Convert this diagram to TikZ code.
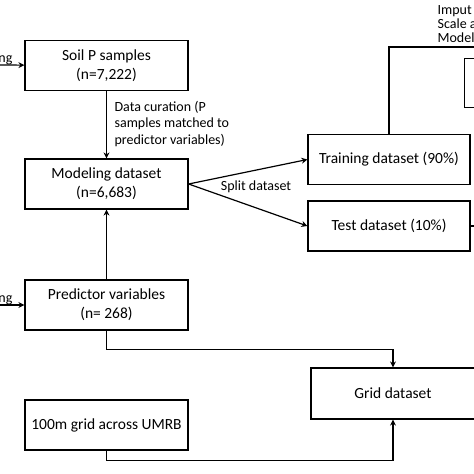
\documentclass[tikz,border=0pt]{standalone}
\usepackage{fontspec}
\setmainfont{Carlito}
\usetikzlibrary{arrows.meta}

\tikzset{
    box/.style={draw, line width=1.2pt, minimum width=163pt, minimum height=50pt,
        align=center, inner sep=0pt, font=\fontsize{15.5}{19}\selectfont},
    lbl/.style={align=left, inner sep=0pt, font=\fontsize{14}{16.5}\selectfont},
}

\begin{document}
\begin{tikzpicture}[x=1pt, y=-1pt, >={Stealth[length=6pt, width=6pt]}, line width=1.2pt]
    \useasboundingbox (0,0) rectangle (474,474);
    \clip (0,0) rectangle (474,474);

    % left column of boxes
    \node[box] (soil) at (106.5,65.5) {Soil P samples\\(n=7,222)};
    \node[box] (model) at (106.5,184) {Modeling dataset\\(n=6,683)};
    \node[box] (pred) at (106.5,305) {Predictor variables\\(n= 268)};
    \node[box] (grid100) at (106.5,425) {100m grid across UMRB};

    % inputs coming from the left
    \coordinate (inS) at (-5,65);
    \coordinate (inP) at (-5,305);
    \draw[->] (inS) -- (soil);
    \draw[->] (inP) -- (pred);
    \node[lbl, anchor=base east] at (13,62) {ng};
    \node[lbl, anchor=base east] at (13,302) {ng};

    % curation and predictors into the modeling set
    \draw[->] (soil) -- (model);
    \node[lbl, anchor=west] at (114,124) {Data curation (P\\samples matched to\\predictor variables)};
    \draw[->] (pred) -- (model);

    % split into training and test
    \node[box, minimum width=162pt] (train) at (389,159.5) {Training dataset (90\%)};
    \node[box, minimum width=162pt] (test) at (389,226) {Test dataset (10\%)};
    \draw[->] (model.east) -- (train.west);
    \draw[->] (model.east) -- (test.west);
    \node[lbl] at (256,187) {Split dataset};

    % model fitting (cut at the right edge)
    \node[box, minimum width=120pt, minimum height=49pt, anchor=north west] (fit) at (464,58) {};
    \coordinate (outT) at (490,47);
    \coordinate (outE) at (490,226);
    \draw (train.north) -- (train.north |- outT) -- (outT);
    \draw (test.east) -- (outE);
    \node[lbl, anchor=base west] at (437,14) {Imput};
    \node[lbl, anchor=base west] at (437,28) {Scale a};
    \node[lbl, anchor=base west] at (437,42) {Model};

    % grid dataset
    \node[box, minimum width=164pt, minimum height=51pt] (grid) at (393,393.5) {Grid dataset};
    \draw[->] (pred.south) -- ++(0,19) -| (grid.north);
    \draw[->] (grid100.south) -- ++(0,10) -| (grid.south);
\end{tikzpicture}
\end{document}
